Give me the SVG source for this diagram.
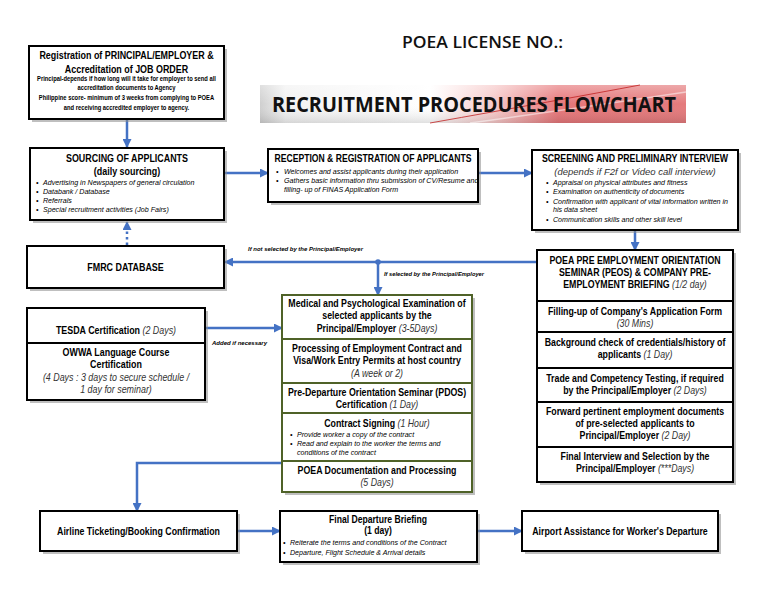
<svg xmlns="http://www.w3.org/2000/svg" width="768" height="594" viewBox="0 0 768 594">
<defs>
<linearGradient id="ban" x1="0" y1="0" x2="1" y2="0">
<stop offset="0" stop-color="#cfcfcf"/>
<stop offset="0.06" stop-color="#f2f2f2"/>
<stop offset="0.4" stop-color="#ffffff"/>
<stop offset="0.55" stop-color="#f6c8c8"/>
<stop offset="0.7" stop-color="#e6777a"/>
<stop offset="1" stop-color="#e47a7c"/>
</linearGradient>
<linearGradient id="banv" x1="0" y1="0" x2="0" y2="1">
<stop offset="0" stop-color="#ffffff" stop-opacity="0.35"/>
<stop offset="0.5" stop-color="#ffffff" stop-opacity="0"/>
<stop offset="1" stop-color="#000000" stop-opacity="0.12"/>
</linearGradient>
<marker id="ah" markerWidth="9" markerHeight="9" refX="8" refY="4.5" orient="auto" markerUnits="userSpaceOnUse">
<path d="M0,0 L9,4.5 L0,9 Z" fill="#4472C4"/>
</marker>
</defs>
<style>
.bx{fill:#fff;stroke:#000;stroke-width:2}
.gb{fill:#fff;stroke:#4F6228;stroke-width:2}
.sh{fill:#8a8a8a;opacity:0.55}
.t{font-family:"Liberation Sans",Arial,sans-serif;font-weight:bold;fill:#000;text-anchor:middle}
.t10{font-size:10.5px}
.t9{font-size:10px}
.t7{font-size:7px}
.i{font-family:"Liberation Sans",Arial,sans-serif;font-weight:normal;font-style:italic;fill:#333}
.b{font-family:"Liberation Sans",Arial,sans-serif;font-style:italic;font-size:7.1px;fill:#000}
.lb{font-family:"Liberation Sans",Arial,sans-serif;font-size:6px;font-weight:bold;font-style:italic;fill:#000}
.cn{stroke:#4472C4;stroke-width:2.5;fill:none}
</style>

<g id="header">
<text x="402" y="48" font-family="'Open Sans',sans-serif" font-weight="600" font-size="17" fill="#111" textLength="161" lengthAdjust="spacingAndGlyphs">POEA LICENSE NO.:</text>
<rect x="260" y="85" width="426" height="38" fill="url(#ban)"/>
<rect x="260" y="85" width="426" height="38" fill="url(#banv)"/>
<path d="M430,123 Q560,100 640,85" stroke="#c02020" stroke-width="1" fill="none" opacity="0.8"/>
<path d="M470,123 Q580,108 686,92" stroke="#ffffff" stroke-width="1.5" fill="none" opacity="0.5"/>
<text x="272" y="112" font-family="'Open Sans',sans-serif" font-weight="bold" font-size="22" fill="#111" textLength="404" lengthAdjust="spacingAndGlyphs">RECRUITMENT PROCEDURES FLOWCHART</text>
</g>

<g id="connectors">
<line class="cn" x1="127" y1="120" x2="127" y2="147" marker-end="url(#ah)"/>
<line class="cn" x1="127" y1="245" x2="127" y2="222" stroke-dasharray="2.5,3" marker-end="url(#ah)"/>
<line class="cn" x1="225" y1="173" x2="268" y2="173" marker-end="url(#ah)"/>
<line class="cn" x1="479" y1="173" x2="532" y2="173" marker-end="url(#ah)"/>
<line class="cn" x1="635" y1="231" x2="635" y2="250" marker-end="url(#ah)"/>
<line class="cn" x1="537" y1="262" x2="225" y2="262" marker-end="url(#ah)"/>
<circle cx="378" cy="262" r="2.8" fill="#4472C4"/>
<line class="cn" x1="378" y1="262" x2="378" y2="295" marker-end="url(#ah)"/>
<line class="cn" x1="206" y1="328" x2="282" y2="328" marker-end="url(#ah)"/>
<path class="cn" d="M282,463 H137 V511" marker-end="url(#ah)"/>
<line class="cn" x1="238" y1="531" x2="280" y2="531" marker-end="url(#ah)"/>
<line class="cn" x1="478" y1="531" x2="522" y2="531" marker-end="url(#ah)"/>
<text class="lb" x="248" y="251" textLength="115" lengthAdjust="spacingAndGlyphs">If not selected by the Principal/Employer</text>
<text class="lb" x="384" y="276" textLength="100" lengthAdjust="spacingAndGlyphs">If selected by the Principal/Employer</text>
<text class="lb" x="212" y="345" textLength="55" lengthAdjust="spacingAndGlyphs">Added if necessary</text>
</g>

<g id="registration">
<rect class="sh" x="32" y="49" width="195" height="73"/>
<rect class="bx" x="29" y="46" width="195" height="73"/>
<text class="t t10" transform="translate(126.5 59) scale(0.85 1)">Registration of PRINCIPAL/EMPLOYER &amp;</text>
<text class="t t10" transform="translate(126.5 73) scale(0.85 1)">Accreditation of JOB ORDER</text>
<text class="t t7" transform="translate(126.5 81) scale(0.83 1)">Principal-depends if how long will it take for employer to send all</text>
<text class="t t7" transform="translate(126.5 89.5) scale(0.83 1)">accreditation documents to Agency</text>
<text class="t t7" transform="translate(126.5 100) scale(0.83 1)">Philippine score- minimum of 3 weeks from complying to POEA</text>
<text class="t t7" transform="translate(126.5 110) scale(0.83 1)">and receiving accredited employer to agency.</text>
</g>

<g id="sourcing">
<rect class="sh" x="33" y="151" width="194" height="72"/>
<rect class="bx" x="30" y="148" width="194" height="72"/>
<text class="t t10" transform="translate(127 162) scale(0.85 1)">SOURCING OF APPLICANTS</text>
<text class="t t10" transform="translate(127 175) scale(0.85 1)">(daily sourcing)</text>
<text class="b" x="36" y="185">•</text><text class="b" x="43" y="185">Advertising in Newspapers of general circulation</text>
<text class="b" x="36" y="194">•</text><text class="b" x="43" y="194">Databank / Database</text>
<text class="b" x="36" y="203">•</text><text class="b" x="43" y="203">Referrals</text>
<text class="b" x="36" y="212">•</text><text class="b" x="43" y="212">Special recruitment activities (Job Fairs)</text>
</g>

<g id="reception">
<rect class="sh" x="271" y="152" width="210" height="53"/>
<rect class="bx" x="268" y="149" width="210" height="53"/>
<text class="t t10" transform="translate(373 162) scale(0.82 1)">RECEPTION &amp; REGISTRATION OF APPLICANTS</text>
<text class="b" x="276" y="174">•</text><text class="b" x="284" y="174">Welcomes and assist applicants during their application</text>
<text class="b" x="276" y="183">•</text><text class="b" x="284" y="183">Gathers basic information thru submission of CV/Resume and</text>
<text class="b" x="284" y="192">filling- up of FINAS Application Form</text>
</g>

<g id="screening">
<rect class="sh" x="535" y="153" width="206" height="80"/>
<rect class="bx" x="532" y="150" width="206" height="80"/>
<text class="t t10" transform="translate(635 162) scale(0.835 1)">SCREENING AND PRELIMINARY INTERVIEW</text>
<text class="i" x="635" y="175" font-size="9.5" text-anchor="middle">(depends if F2f or Video call interview)</text>
<text class="b" x="546" y="185">•</text><text class="b" x="553" y="185">Appraisal on physical attributes and fitness</text>
<text class="b" x="546" y="194">•</text><text class="b" x="553" y="194">Examination on authenticity of documents</text>
<text class="b" x="546" y="204">•</text><text class="b" x="553" y="204">Confirmation with applicant of vital information written in</text>
<text class="b" x="553" y="212">his data sheet</text>
<text class="b" x="546" y="222">•</text><text class="b" x="553" y="222">Communication skills and other skill level</text>
</g>

<g id="fmrc">
<rect class="sh" x="30" y="249" width="197" height="42"/>
<rect class="bx" x="27" y="246" width="197" height="42"/>
<text class="t t10" transform="translate(125.5 271) scale(0.85 1)">FMRC DATABASE</text>
</g>

<g id="peos-column">
<rect class="sh" x="540" y="253" width="196" height="232"/>
<rect class="bx" x="537" y="250" width="196" height="232"/>
<line x1="537" y1="301" x2="733" y2="301" stroke="#000" stroke-width="2"/>
<line x1="537" y1="332" x2="733" y2="332" stroke="#000" stroke-width="2"/>
<line x1="537" y1="368" x2="733" y2="368" stroke="#000" stroke-width="2"/>
<line x1="537" y1="402" x2="733" y2="402" stroke="#000" stroke-width="2"/>
<line x1="537" y1="447" x2="733" y2="447" stroke="#000" stroke-width="2"/>
<text class="t t9" transform="translate(635 264) scale(0.88 1)">POEA PRE EMPLOYMENT ORIENTATION</text>
<text class="t t9" transform="translate(635 276) scale(0.88 1)">SEMINAR (PEOS) &amp; COMPANY PRE-</text>
<text class="t t9" transform="translate(635 288) scale(0.88 1)">EMPLOYMENT BRIEFING <tspan class="i">(1/2 day)</tspan></text>
<text class="t t9" transform="translate(635 315) scale(0.88 1)">Filling-up of Company's Application Form</text>
<text class="t t9" transform="translate(635 327) scale(0.88 1)"><tspan class="i">(30 Mins)</tspan></text>
<text class="t t9" transform="translate(635 346) scale(0.88 1)">Background check of credentials/history of</text>
<text class="t t9" transform="translate(635 358) scale(0.88 1)">applicants <tspan class="i">(1 Day)</tspan></text>
<text class="t t9" transform="translate(635 382) scale(0.88 1)">Trade and Competency Testing, if required</text>
<text class="t t9" transform="translate(635 394) scale(0.88 1)">by the Principal/Employer <tspan class="i">(2 Days)</tspan></text>
<text class="t t9" transform="translate(635 415) scale(0.88 1)">Forward pertinent employment documents</text>
<text class="t t9" transform="translate(635 427) scale(0.88 1)">of pre-selected applicants to</text>
<text class="t t9" transform="translate(635 439) scale(0.88 1)">Principal/Employer <tspan class="i">(2  Day)</tspan></text>
<text class="t t9" transform="translate(635 460) scale(0.88 1)">Final Interview and Selection by the</text>
<text class="t t9" transform="translate(635 472) scale(0.88 1)">Principal/Employer <tspan class="i">(***Days)</tspan></text>
</g>

<g id="center-column">
<rect class="sh" x="285" y="298" width="190" height="197"/>
<rect class="gb" x="282" y="295" width="190" height="197"/>
<line x1="282" y1="339" x2="472" y2="339" stroke="#4F6228" stroke-width="2"/>
<line x1="282" y1="383" x2="472" y2="383" stroke="#4F6228" stroke-width="2"/>
<line x1="282" y1="413" x2="472" y2="413" stroke="#4F6228" stroke-width="2"/>
<line x1="282" y1="461" x2="472" y2="461" stroke="#4F6228" stroke-width="2"/>
<text class="t t9" transform="translate(377 307) scale(0.88 1)">Medical and Psychological Examination of</text>
<text class="t t9" transform="translate(377 319) scale(0.88 1)">selected applicants by the</text>
<text class="t t9" transform="translate(377 332) scale(0.88 1)">Principal/Employer <tspan class="i">(3-5Days)</tspan></text>
<text class="t t9" transform="translate(377 352) scale(0.88 1)">Processing of Employment Contract and</text>
<text class="t t9" transform="translate(377 364) scale(0.88 1)">Visa/Work Entry Permits at host country</text>
<text class="t t9" transform="translate(377 377) scale(0.88 1)"><tspan class="i">(A week or 2)</tspan></text>
<text class="t t9" transform="translate(377 396) scale(0.88 1)">Pre-Departure Orientation Seminar (PDOS)</text>
<text class="t t9" transform="translate(377 408) scale(0.88 1)">Certification <tspan class="i">(1 Day)</tspan></text>
<text class="t t9" transform="translate(377 427) scale(0.88 1)">Contract Signing <tspan class="i">(1 Hour)</tspan></text>
<text class="b" x="290" y="437">•</text><text class="b" x="297" y="437">Provide worker a copy of the contract</text>
<text class="b" x="290" y="446">•</text><text class="b" x="297" y="446">Read and explain to the worker the terms and</text>
<text class="b" x="297" y="455">conditions of the contract</text>
<text class="t t9" transform="translate(377 474) scale(0.88 1)">POEA Documentation and Processing</text>
<text class="t t9" transform="translate(377 486) scale(0.88 1)"><tspan class="i">(5 Days)</tspan></text>
</g>

<g id="tesda-owwa">
<rect class="sh" x="30" y="311" width="178" height="92"/>
<rect class="bx" x="27" y="308" width="178" height="92"/>
<line x1="27" y1="343" x2="205" y2="343" stroke="#000" stroke-width="2"/>
<text class="t t9" transform="translate(116 334) scale(0.89 1)">TESDA Certification <tspan class="i">(2 Days)</tspan></text>
<text class="t t9" transform="translate(116 356) scale(0.89 1)">OWWA Language Course</text>
<text class="t t9" transform="translate(116 368) scale(0.89 1)">Certification</text>
<text class="i" font-size="10" text-anchor="middle" transform="translate(116 381) scale(0.89 1)">(4 Days : 3 days to secure schedule /</text>
<text class="i" font-size="10" text-anchor="middle" transform="translate(116 393) scale(0.89 1)">1 day for seminar)</text>
</g>

<g id="airline">
<rect class="sh" x="43" y="514" width="197" height="40"/>
<rect class="bx" x="40" y="511" width="197" height="40"/>
<text class="t t9" transform="translate(138.5 535) scale(0.88 1)">Airline Ticketing/Booking Confirmation</text>
</g>

<g id="final-briefing">
<rect class="sh" x="283" y="514" width="197" height="51"/>
<rect class="bx" x="280" y="511" width="197" height="51"/>
<text class="t t10" transform="translate(378 523) scale(0.82 1)">Final Departure Briefing</text>
<text class="t t10" transform="translate(378 534) scale(0.82 1)">(1 day)</text>
<text class="b" x="283" y="545">•</text><text class="b" x="290" y="545">Reiterate the terms and conditions of the Contract</text>
<text class="b" x="283" y="555">•</text><text class="b" x="290" y="555">Departure, Flight Schedule &amp; Arrival details</text>
</g>

<g id="airport">
<rect class="sh" x="525" y="514" width="196" height="40"/>
<rect class="bx" x="522" y="511" width="196" height="40"/>
<text class="t t9" transform="translate(620 535) scale(0.88 1)">Airport Assistance for Worker's Departure</text>
</g>
</svg>
